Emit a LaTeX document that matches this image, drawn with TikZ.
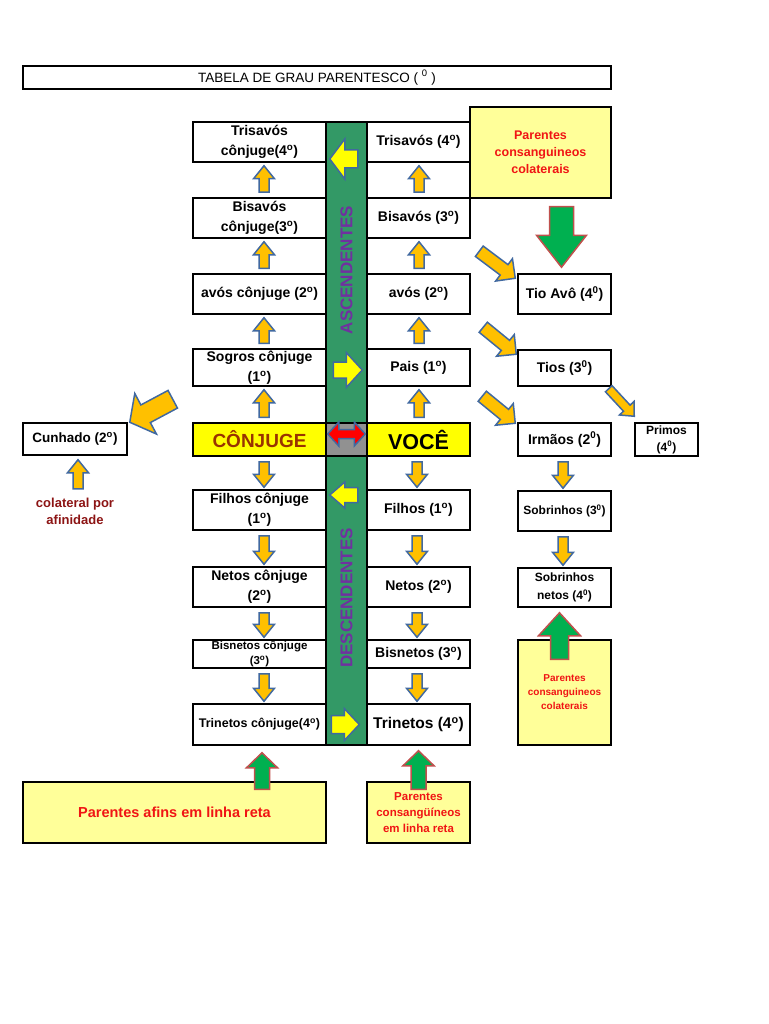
\documentclass[tikz,border=0pt]{standalone}
\usepackage{fontspec}
\setmainfont{Liberation Sans}
\usepackage{tikz}
\usetikzlibrary{calc, positioning}
\definecolor{laranja}{RGB}{255,192,0}
\definecolor{contorno}{RGB}{65,105,160}
\definecolor{verdecol}{RGB}{51,153,102}
\definecolor{verdeseta}{RGB}{0,176,80}
\definecolor{bordaverm}{RGB}{192,80,77}
\definecolor{amarelo}{RGB}{255,255,0}
\definecolor{amareloclaro}{RGB}{255,255,153}
\definecolor{roxo}{RGB}{112,48,160}
\definecolor{marrom}{RGB}{153,51,0}
\definecolor{vermelhoesc}{RGB}{140,20,20}
\definecolor{vermelho}{RGB}{240,20,20}
\definecolor{cinza}{RGB}{145,145,145}
\newcommand{\grau}{\textsuperscript{o}}
\newcommand{\gzero}{\textsuperscript{0}}
% block arrow: [style]{tail}{tip}{head length}{head half width}{shaft half width}
\newcommand{\blkarrow}[6][]{%
  \path #2 coordinate (ba-a) #3 coordinate (ba-b);
  \path ($(ba-b)!#4!(ba-a)$) coordinate (ba-c);
  \filldraw[#1] ($(ba-a)!#6!90:(ba-b)$) -- ($(ba-c)!#6!90:(ba-b)$) -- ($(ba-c)!#5!90:(ba-b)$)
    -- (ba-b) -- ($(ba-c)!#5!-90:(ba-b)$) -- ($(ba-c)!#6!-90:(ba-b)$) -- ($(ba-a)!#6!-90:(ba-b)$) -- cycle;
}
% double block arrow: [style]{end}{end}{head length}{head half width}{shaft half width}
\newcommand{\dblarrow}[6][]{%
  \path #2 coordinate (da-a) #3 coordinate (da-b);
  \path ($(da-a)!#4!(da-b)$) coordinate (da-c) ($(da-b)!#4!(da-a)$) coordinate (da-d);
  \filldraw[#1] (da-a) -- ($(da-c)!#5!90:(da-b)$) -- ($(da-c)!#6!90:(da-b)$) -- ($(da-d)!#6!90:(da-b)$)
    -- ($(da-d)!#5!90:(da-b)$) -- (da-b) -- ($(da-d)!#5!-90:(da-b)$) -- ($(da-d)!#6!-90:(da-b)$)
    -- ($(da-c)!#6!-90:(da-b)$) -- ($(da-c)!#5!-90:(da-b)$) -- cycle;
}

\begin{document}
\begin{tikzpicture}[x=1pt, y=-1pt,
    letra/.style 2 args={font=\bfseries\fontsize{#1}{#2}\selectfont},
    caixa/.style={draw, line width=1.5pt, fill=white, align=center, inner sep=1pt, letra={14}{20}},
    celesq/.style={caixa, minimum width=133pt, minimum height=#1},
    celesq/.default=40pt,
    celdir/.style={caixa, minimum width=103pt, minimum height=#1},
    celdir/.default=40pt,
    celcol/.style={caixa, minimum width=93pt, minimum height=#1},
    celcol/.default=40pt,
    nota/.style={caixa, fill=amareloclaro, text=vermelho},
    seta/.style={fill=laranja, draw=contorno, line width=1.5pt},
    amarela/.style={fill=amarelo, draw=contorno, line width=1.5pt},
    verde/.style={fill=verdeseta, draw=bordaverm, line width=1.5pt}]
  \useasboundingbox (0,0) rectangle (768,1024);
  % Title
  \node[caixa, minimum width=588pt, minimum height=23pt, font=\fontsize{13.5}{16}\selectfont] (titulo) at (317,77.5) {TABELA DE GRAU PARENTESCO ( \gzero{} )};
  % Central column
  \node[draw, line width=1.5pt, fill=verdecol, minimum width=41pt, minimum height=623pt, inner sep=0pt] (coluna) at (346.5,433.5) {};
  \node[draw, line width=1.5pt, fill=cinza, minimum width=41pt, minimum height=33pt, inner sep=0pt] (meio) at (346.5,439.5) {};
  \node[rotate=90, text=roxo, letra={17}{20}] (ascend) at (346.5,270) {ASCENDENTES};
  \node[rotate=90, text=roxo, letra={17}{20}] (descend) at (346.5,598) {DESCENDENTES};
  % Spouse side
  \node[celesq] (triL) at (259.5,142) {Trisavós\\cônjuge(4\grau)};
  \node[celesq] (bisL) at (259.5,218) {Bisavós\\cônjuge(3\grau)};
  \node[celesq] (avoL) at (259.5,294) {avós cônjuge (2\grau)};
  \node[celesq=37pt] (sogL) at (259.5,367.5) {Sogros cônjuge\\(1\grau)};
  \node[celesq=33pt, fill=amarelo, text=marrom, letra={19}{22}] (conj) at (259.5,439.5) {CÔNJUGE};
  \node[celesq] (filL) at (259.5,510) {Filhos cônjuge\\(1\grau)};
  \node[celesq] (netL) at (259.5,587) {Netos cônjuge\\(2\grau)};
  \node[celesq=28pt, letra={11.5}{15}, inner sep=0pt] (bnetL) at (259.5,654) {Bisnetos cônjuge\\(3\grau)};
  \node[celesq=41pt, letra={12.5}{15}] (trnL) at (259.5,724.5) {Trinetos cônjuge(4\grau)};
  % Own side
  \node[celdir] (triR) at (418.5,142) {Trisavós (4\grau)};
  \node[celdir] (bisR) at (418.5,218) {Bisavós (3\grau)};
  \node[celdir] (avoR) at (418.5,294) {avós (2\grau)};
  \node[celdir=37pt] (paisR) at (418.5,367.5) {Pais (1\grau)};
  \node[celdir=33pt, fill=amarelo, letra={21.5}{24}] (voce) at (418.5,439.5) {VOCÊ};
  \node[celdir] (filR) at (418.5,510) {Filhos (1\grau)};
  \node[celdir] (netR) at (418.5,587) {Netos (2\grau)};
  \node[celdir=28pt] (bnetR) at (418.5,654) {Bisnetos (3\grau)};
  \node[celdir=41pt, letra={15.5}{18}] (trnR) at (418.5,724.5) {Trinetos (4\grau)};
  % Collaterals
  \node[nota, minimum width=141pt, minimum height=91pt, letra={12.5}{17}] (colat1) at (540.5,152.5) {Parentes\\consanguineos\\colaterais};
  \node[celcol] (tioavo) at (564.5,294) {Tio Avô (4\gzero)};
  \node[celcol=36pt] (tios) at (564.5,368) {Tios (3\gzero)};
  \node[celcol=33pt] (irmaos) at (564.5,439.5) {Irmãos (2\gzero)};
  \node[caixa, minimum width=63pt, minimum height=33pt, letra={12}{17}, inner sep=0pt] (primos) at (666.5,439.5) {Primos\\(4\gzero)};
  \node[celcol, letra={12}{16}] (sobr) at (564.5,511) {Sobrinhos (3\gzero)};
  \node[celcol=39pt, letra={12}{18}] (sobrn) at (564.5,587.5) {Sobrinhos\\netos (4\gzero)};
  \node[nota, minimum width=93pt, minimum height=105pt, letra={10}{14}] (colat2) at (564.5,692.5) {Parentes\\consanguineos\\colaterais};
  % In-laws
  \node[caixa, minimum width=104pt, minimum height=32pt, letra={13.5}{16}] (cunhado) at (75,439) {Cunhado (2\grau)};
  \node[text=vermelhoesc, align=center, letra={13}{17}] (afin) at (75,511.5) {colateral por\\afinidade};
  \node[nota, minimum width=303pt, minimum height=61pt, letra={14.5}{17}] (afins) at (174.5,812.5) {Parentes afins em linha reta};
  \node[nota, minimum width=103pt, minimum height=61pt, letra={11.5}{16}] (consang) at (418.5,812.5) {Parentes\\consangüíneos\\em linha reta};
  % Orange arrows up and down
  \foreach \baixo/\cima in {bisL/triL, avoL/bisL, sogL/avoL, conj/sogL}{
    \blkarrow[seta]{($(\baixo.north)+(4.5,-5)$)}{($(\cima.south)+(4.5,3)$)}{13pt}{10.5pt}{5pt}
  }
  \foreach \baixo/\cima in {bisR/triR, avoR/bisR, paisR/avoR, voce/paisR}{
    \blkarrow[seta]{($(\baixo.north)+(0.5,-5)$)}{($(\cima.south)+(0.5,3)$)}{13pt}{10.5pt}{5pt}
  }
  \foreach \cima/\baixo in {conj/filL, filL/netL, netL/bnetL, bnetL/trnL}{
    \blkarrow[seta]{($(\cima.south)+(4.5,5)$)}{($(\baixo.north)+(4.5,-2)$)}{13pt}{10.5pt}{5pt}
  }
  \foreach \cima/\baixo in {voce/filR, filR/netR, netR/bnetR, bnetR/trnR, irmaos/sobr, sobr/sobrn}{
    \blkarrow[seta]{($(\cima.south)+(-1.5,5)$)}{($(\baixo.north)+(-1.5,-2)$)}{13pt}{10.5pt}{5pt}
  }
  \blkarrow[seta]{($(cunhado.south)+(3,33)$)}{($(cunhado.south)+(3,4)$)}{13pt}{10.5pt}{5pt}
  % Diagonal arrows
  \blkarrow[seta]{($(tioavo.north west)+(-38,-22)$)}{($(tioavo.north west)+(-2,5)$)}{14pt}{14pt}{6.5pt}
  \blkarrow[seta]{($(tios.north west)+(-34,-22)$)}{($(tios.north west)+(-1,5)$)}{14pt}{14pt}{6.5pt}
  \blkarrow[seta]{($(irmaos.north west)+(-35,-26)$)}{($(irmaos.north west)+(-2,1)$)}{14pt}{14pt}{6.5pt}
  \blkarrow[seta]{($(tios.south east)+(-3,2)$)}{($(primos.north west)+(0,-6)$)}{11pt}{10pt}{4.5pt}
  \blkarrow[seta]{($(cunhado.north east)+(45,-23)$)}{($(cunhado.north east)+(2,0)$)}{18pt}{23pt}{10pt}
  % Arrows inside the column
  \blkarrow[amarela]{($(triL.east)+(31,17)$)}{($(triL.east)+(3,17)$)}{15pt}{20pt}{9pt}
  \blkarrow[amarela]{($(paisR.west)+(-33,2.5)$)}{($(paisR.west)+(-4,2.5)$)}{16pt}{17.5pt}{8pt}
  \blkarrow[amarela]{($(filL.east)+(31,-15)$)}{($(filL.east)+(3,-15)$)}{15pt}{13pt}{7.5pt}
  \blkarrow[amarela]{($(trnR.west)+(-35,0)$)}{($(trnR.west)+(-7,0)$)}{15pt}{16pt}{9pt}
  \dblarrow[fill=red, draw=contorno, line width=1.5pt]{($(conj.east)+(1,-5.5)$)}{($(voce.west)+(-1,-5.5)$)}{11pt}{12pt}{4.5pt}
  % Green arrows
  \blkarrow[verde]{($(colat1.south)+(21,8)$)}{($(tioavo.north)+(-3,-6)$)}{32pt}{25pt}{12pt}
  \blkarrow[verde]{($(afins.north)+(87.5,8)$)}{($(trnL.south)+(2.5,7)$)}{15pt}{15.5pt}{7.5pt}
  \blkarrow[verde]{($(consang.north)+(0,8)$)}{($(trnR.south)+(0,5)$)}{15pt}{15.5pt}{7.5pt}
  \blkarrow[verde]{($(colat2.north)+(-5,20)$)}{($(sobrn.south)+(-5,5)$)}{23pt}{21pt}{9pt}
\end{tikzpicture}
\end{document}
